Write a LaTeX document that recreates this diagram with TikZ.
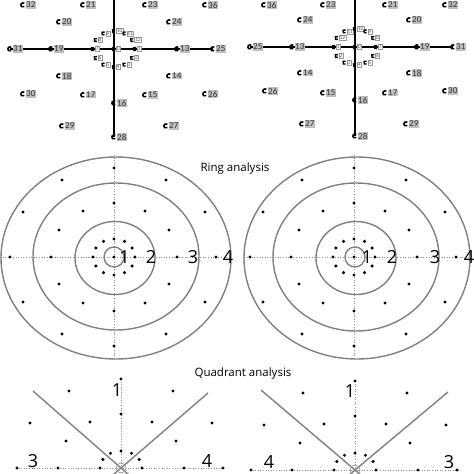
\documentclass[tikz,border=0pt]{standalone}
\usepackage{fontspec}
\usetikzlibrary{calc}
\setmainfont{Open Sans}
\newfontfamily\lblfont{Carlito}
\begin{document}
\begin{tikzpicture}[x=1pt,y=-1pt]
\tikzset{
  cmk/.style={line width=1.6pt, black},
  olab/.style={fill=black!25, text=black!80, font=\lblfont\fontsize{9}{9}\selectfont, inner sep=0.6pt, anchor=west},
  ilab/.style={fill=white, draw=black!40, line width=0.35pt, text=black!65, font=\lblfont\fontsize{5.5}{5.5}\selectfont, inner sep=0.6pt, anchor=west},
  axisline/.style={line width=1.8pt, black},
  ringline/.style={draw=black!50, line width=1.4pt},
  dotax/.style={draw=black!45, dotted, line width=0.6pt},
  numlab/.style={font=\fontsize{18}{18}\selectfont, inner sep=0pt},
  ttl/.style={font=\fontsize{11.5}{12}\selectfont, inner sep=0pt}
}
\newcommand\cmarker[1]{\draw[cmk] (#1) ++(50:2.1pt) arc[start angle=50,end angle=310,radius=2.1pt];}
\newcommand\imarker[1]{\draw[cmk, line width=1.4pt] (#1) ++(50:1.8pt) arc[start angle=50,end angle=310,radius=1.8pt];}
\useasboundingbox (0,0) rectangle (474,474);
\clip (0,0) rectangle (474,474);
\def\ptsAll{0/-89,-52/-77,52/-77,0/-54,-91/-45,-31/-46,31/-46,91/-45,-55/-27,55/-27,-104/0,-63/0,63/0,102/0,-55/27,55/27,-91/45,-31/46,31/46,91/45,0/54,-52/77,52/77,0/89}
\def\ptsUp{0/-89,-52/-77,52/-77,0/-54,-91/-45,-31/-46,31/-46,91/-45,-55/-27,55/-27,-104/0,-63/0,63/0,102/0}
\def\outerL{-91/-44/32,-31/-44/21,31/-44/23,91/-44/36,-55/-27/20,55/-27/24,-104/0/31,-63/0/19,63/0/13,99/0/25,-55/27/18,55/27/14,-91/45/30,-31/46/17,31/46/15,91/45/26,0/54/16,-52/77/29,52/77/27,0/88/28}
\def\outerR{-91/-42/36,-32/-42/23,30/-42/21,90/-42/32,-55/-27/24,54/-27/20,-105/0/25,-63/0/13,62/0/19,98/0/31,-55/26/14,54/26/18,-90/44/26,-32/46/15,30/46/17,90/44/30,0/53/16,-53/77/27,51/77/29,0/89/28}

% ---------- top left ----------
\coordinate (TL-top) at (114,-4);
\coordinate (TL-c) at (114,49);
\foreach \dx/\dy/\lab in \outerL {\coordinate (TL-\lab) at ({114+\dx},{49+\dy});}
\draw[axisline] (TL-31) -- (TL-25);
\draw[axisline] (TL-top) -- (TL-28);
\foreach \dx/\dy/\lab in \outerL {\cmarker{TL-\lab} \node[olab] (TLn-\lab) at ([xshift=2.4pt]TL-\lab) {\lab};}
\foreach \a/\lab in {0/1,30/2,60/3,90/4,120/5,150/6,180/7,210/8,240/9,270/10,300/11,330/12}
  {\coordinate (TLi-\lab) at ({114+21*cos(\a)},{49+18*sin(\a)});
   \imarker{TLi-\lab} \node[ilab] (TLin-\lab) at ([xshift=2.1pt]TLi-\lab) {\lab};}
\imarker{TL-c} \node[ilab] (TLn-0) at ([xshift=2.1pt]TL-c) {0};

% ---------- top right ----------
\coordinate (TR-top) at (355,-4);
\coordinate (TR-c) at (355,47);
\foreach \dx/\dy/\lab in \outerR {\coordinate (TR-\lab) at ({355+\dx},{47+\dy});}
\draw[axisline] (TR-25) -- (TR-31);
\draw[axisline] (TR-top) -- (TR-28);
\foreach \dx/\dy/\lab in \outerR {\cmarker{TR-\lab} \node[olab] (TRn-\lab) at ([xshift=2.4pt]TR-\lab) {\lab};}
\foreach \a/\lab in {0/7,30/6,60/5,90/4,120/3,150/2,180/1,210/12,240/11,270/10,300/9,330/8}
  {\coordinate (TRi-\lab) at ({355+21*cos(\a)},{47+18*sin(\a)});
   \imarker{TRi-\lab} \node[ilab] (TRin-\lab) at ([xshift=2.1pt]TRi-\lab) {\lab};}
\imarker{TR-c} \node[ilab] (TRn-0) at ([xshift=2.1pt]TR-c) {0};

% ---------- ring analysis ----------
\node[ttl] (ringtitle) at (235,169) {Ring analysis};
% left
\coordinate (RL) at (114,257);
\draw[dotax] (0,257) -- (230,257);
\draw[dotax] (114,155) -- (114,360);
\draw[ringline] (114,257) ellipse [x radius=10pt, y radius=10pt];
\draw[ringline] (115,258) ellipse [x radius=40pt, y radius=36.5pt];
\draw[ringline] (116,256.5) ellipse [x radius=83pt, y radius=73.5pt];
\draw[ringline] (116,258) ellipse [x radius=115pt, y radius=101pt];
\foreach \dx/\dy in \ptsAll {\fill ({114+\dx},{257+\dy}) circle (1.7pt);}
\foreach \a in {0,30,...,330} {\fill ({114+21*cos(\a)},{257+18*sin(\a)}) circle (1.7pt);}
\fill (RL) circle (1.7pt);
\node[numlab] (RL1) at (124.5,257) {1};
\node[numlab] (RL2) at (151,257) {2};
\node[numlab] (RL3) at (193,257) {3};
\node[numlab] (RL4) at (228,257) {4};
% right
\coordinate (RR) at (354,257);
\draw[dotax] (244,257) -- (470,257);
\draw[dotax] (354,155) -- (354,360);
\draw[ringline] (355,257) ellipse [x radius=10pt, y radius=10pt];
\draw[ringline] (356,258) ellipse [x radius=40pt, y radius=36.5pt];
\draw[ringline] (356,257) ellipse [x radius=83pt, y radius=74pt];
\draw[ringline] (357,258) ellipse [x radius=113pt, y radius=101pt];
\foreach \dx/\dy in \ptsAll {\fill ({354+\dx},{257+\dy}) circle (1.7pt);}
\foreach \a in {0,30,...,330} {\fill ({354+21*cos(\a)},{257+18*sin(\a)}) circle (1.7pt);}
\fill (RR) circle (1.7pt);
\node[numlab] (RR1) at (367,257) {1};
\node[numlab] (RR2) at (392,257) {2};
\node[numlab] (RR3) at (435,257) {3};
\node[numlab] (RR4) at (469,257) {4};

% ---------- quadrant analysis ----------
\node[ttl] (quadtitle) at (243,374) {Quadrant analysis};
% left
\coordinate (QL) at (121,468);
\coordinate (QLa) at (33,391);
\coordinate (QLb) at (208,393);
\draw[dotax] (16,468) -- (224,468);
\draw[dotax] (121,379) -- (QL);
\draw[ringline] (QLa) -- ($(QL)!-0.15!(QLa)$);
\draw[ringline] (QLb) -- ($(QL)!-0.15!(QLb)$);
\draw[draw=black!40, line width=0.8pt] (QL) circle (5pt);
\foreach \dx/\dy in \ptsUp {\fill ({121+\dx},{468+\dy}) circle (1.7pt);}
\foreach \a in {180,210,...,360} {\fill ({121+21*cos(\a)},{468+17*sin(\a)}) circle (1.7pt);}
\node[numlab] (QL1) at (117,390) {1};
\node[numlab] (QL3) at (33,461) {3};
\node[numlab] (QL4) at (207,461) {4};
% right
\coordinate (QR) at (355,470);
\coordinate (QRa) at (261,390);
\coordinate (QRb) at (448,392);
\draw[dotax] (250,470) -- (460,470);
\draw[dotax] (355,381) -- (QR);
\draw[ringline] (QRa) -- ($(QR)!-0.15!(QRa)$);
\draw[ringline] (QRb) -- ($(QR)!-0.15!(QRb)$);
\draw[draw=black!40, line width=0.8pt] (QR) circle (5pt);
\foreach \dx/\dy in \ptsUp {\fill ({355+\dx},{470+\dy}) circle (1.7pt);}
\foreach \a in {180,210,...,360} {\fill ({355+21*cos(\a)},{470+17*sin(\a)}) circle (1.7pt);}
\node[numlab] (QR1) at (350,391) {1};
\node[numlab] (QR4) at (269,462) {4};
\node[numlab] (QR3) at (449,462) {3};
\end{tikzpicture}
\end{document}
